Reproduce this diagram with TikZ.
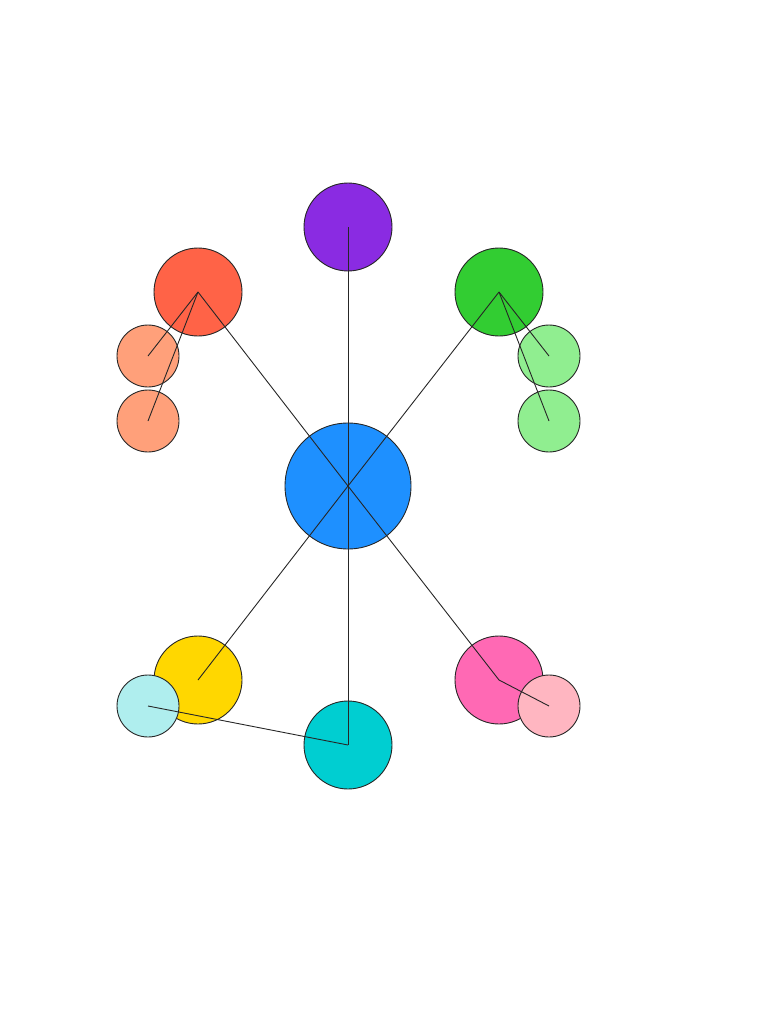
\documentclass[tikz,border=0pt]{standalone}
\definecolor{cblue}{HTML}{1E90FF}
\definecolor{cpurple}{HTML}{8A2BE2}
\definecolor{cred}{HTML}{FF6347}
\definecolor{cgreen}{HTML}{32CD32}
\definecolor{csalmon}{HTML}{FFA07A}
\definecolor{clgreen}{HTML}{90EE90}
\definecolor{cgold}{HTML}{FFD700}
\definecolor{cturq}{HTML}{00CED1}
\definecolor{cpink}{HTML}{FF69B4}
\definecolor{cpturq}{HTML}{AFEEEE}
\definecolor{clpink}{HTML}{FFB6C1}
\begin{document}
\begin{tikzpicture}[x=1pt,y=-1pt,
  ball/.style={circle,draw=black!85,line width=0.9pt,inner sep=0pt},
  big/.style={ball,minimum size=126pt},
  mid/.style={ball,minimum size=88pt},
  small/.style={ball,minimum size=62pt},
  link/.style={draw=black!85,line width=0.9pt}]
\useasboundingbox (0,0) rectangle (768,1024);
\node[big,fill=cblue] (c) at (348,486) {};
\node[mid,fill=cpurple] (p) at (348,227) {};
\node[mid,fill=cred] (r) at (198,292) {};
\node[mid,fill=cgreen] (g) at (499,292) {};
\node[small,fill=csalmon] (r1) at (148,356) {};
\node[small,fill=csalmon] (r2) at (148,421) {};
\node[small,fill=clgreen] (g1) at (549,356) {};
\node[small,fill=clgreen] (g2) at (549,421) {};
\node[mid,fill=cgold] (y) at (198,680) {};
\node[mid,fill=cturq] (t) at (348,745) {};
\node[mid,fill=cpink] (k) at (499,680) {};
\node[small,fill=cpturq] (t1) at (148,706) {};
\node[small,fill=clpink] (k1) at (549,706) {};
\foreach \a in {p,r,g,y,t,k} \draw[link] (c.center) -- (\a.center);
\draw[link] (r.center) -- (r1.center);
\draw[link] (r.center) -- (r2.center);
\draw[link] (g.center) -- (g1.center);
\draw[link] (g.center) -- (g2.center);
\draw[link] (t.center) -- (t1.center);
\draw[link] (k.center) -- (k1.center);
\end{tikzpicture}
\end{document}
